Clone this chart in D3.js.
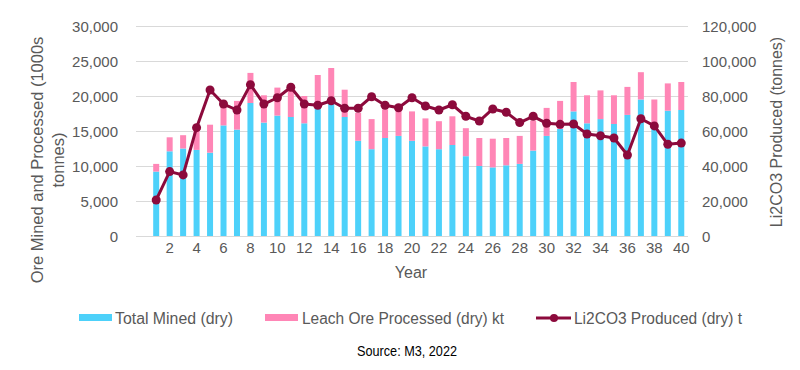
<!DOCTYPE html>
<html>
<head>
<meta charset="utf-8">
<script src="https://cdn.jsdelivr.net/npm/d3@7"></script>
<style>
  html, body { margin: 0; padding: 0; background: #fff; }
  svg text { font-family: Arial, "Liberation Sans", sans-serif; }
</style>
</head>
<body>
<svg id="chart" width="800" height="370"></svg>
<script>
const years = d3.range(1, 41);
const totalMined = [9200, 12100, 12500, 12300, 11900, 15800, 15200, 19000, 16200, 17200,
  17000, 16100, 18200, 19800, 17000, 13600, 12400, 14000, 14300, 13600,
  12800, 12400, 13000, 11400, 10000, 9800, 10100, 10300, 12200, 14300,
  15300, 17800, 16100, 16700, 16000, 17300, 19500, 15800, 17900, 18000];
const leachOre = [1100, 2000, 1900, 2900, 4000, 3400, 4100, 4300, 3900, 4000,
  4000, 3900, 4800, 4200, 3900, 4000, 4300, 4100, 3700, 4200,
  4000, 4000, 4100, 4000, 4000, 4100, 3900, 4000, 4300, 4000,
  4000, 4200, 4000, 4100, 4100, 4000, 3900, 3700, 3900, 4000];
const li2co3 = [20600, 36800, 34900, 61900, 83400, 75400, 72000, 86500, 75400, 79000,
  85000, 75400, 74700, 77300, 73000, 73000, 79600, 74700, 73300, 79000,
  74300, 72000, 75000, 68400, 65700, 72600, 70700, 64800, 68400, 64400,
  63800, 64000, 58300, 57300, 56000, 46300, 67000, 62900, 52400, 53100];
const leftTicks = [0, 5000, 10000, 15000, 20000, 25000, 30000];
const rightTicks = [0, 20000, 40000, 60000, 80000, 100000, 120000];
const xTickYears = years.filter(y => y % 2 === 0);

const colors = { mined: "#4DD1FA", leach: "#FF86B6", line: "#8C0A3C", grid: "#D9D9D9", text: "#595959" };

const svg = d3.select("#chart");
const pLeft = 136, pRight = 688, pTop = 26, pBottom = 236;

const x = d3.scaleBand().domain(d3.range(0, 41)).range([pLeft, pRight]).padding(0);
const yL = d3.scaleLinear().domain([0, 30000]).range([pBottom, pTop]);
const yR = d3.scaleLinear().domain([0, 120000]).range([pBottom, pTop]);
const fmt = d3.format(",");

// gridlines
svg.append("g").selectAll("line").data(leftTicks).join("line")
  .attr("x1", pLeft).attr("x2", pRight)
  .attr("y1", d => yL(d) + 0.5).attr("y2", d => yL(d) + 0.5)
  .attr("stroke", colors.grid).attr("stroke-width", 1);

// left axis
const axL = d3.axisLeft(yL).tickValues(leftTicks).tickFormat(fmt).tickSize(0).tickPadding(0);
const gL = svg.append("g").attr("transform", `translate(118,0)`).call(axL);
gL.select(".domain").remove();
gL.selectAll("text").attr("fill", colors.text).style("font-size", "15px").attr("dy", "0.35em");

// right axis
const axR = d3.axisRight(yR).tickValues(rightTicks).tickFormat(fmt).tickSize(0).tickPadding(0);
const gR = svg.append("g").attr("transform", `translate(702,0)`).call(axR);
gR.select(".domain").remove();
gR.selectAll("text").attr("fill", colors.text).style("font-size", "15px").attr("dy", "0.35em");

// x axis
const axX = d3.axisBottom(x).tickValues(xTickYears).tickSize(0).tickPadding(0);
const gX = svg.append("g").attr("transform", `translate(0,${pBottom + 6})`).call(axX);
gX.select(".domain").remove();
gX.selectAll("text").attr("fill", colors.text).style("font-size", "15px").attr("dy", "0.71em");

// bars
const bw = 6;
const barG = svg.append("g");
barG.selectAll("rect.mined").data(years).join("rect").attr("class", "mined")
  .attr("x", (d) => x(d) + x.bandwidth() / 2 - bw / 2)
  .attr("width", bw)
  .attr("y", (d, i) => yL(totalMined[i]))
  .attr("height", (d, i) => yL(0) - yL(totalMined[i]))
  .attr("fill", colors.mined);
barG.selectAll("rect.leach").data(years).join("rect").attr("class", "leach")
  .attr("x", (d) => x(d) + x.bandwidth() / 2 - bw / 2)
  .attr("width", bw)
  .attr("y", (d, i) => yL(totalMined[i] + leachOre[i]))
  .attr("height", (d, i) => yL(totalMined[i]) - yL(totalMined[i] + leachOre[i]))
  .attr("fill", colors.leach);

// line
const line = d3.line().x((d, i) => x(years[i]) + x.bandwidth() / 2).y(d => yR(d));
svg.append("path").datum(li2co3).attr("d", line)
  .attr("fill", "none").attr("stroke", colors.line).attr("stroke-width", 3).attr("stroke-linejoin", "round");
svg.append("g").selectAll("circle").data(li2co3).join("circle")
  .attr("cx", (d, i) => x(years[i]) + x.bandwidth() / 2)
  .attr("cy", d => yR(d))
  .attr("r", 4.5).attr("fill", colors.line);

// axis titles
const lt = svg.append("text").attr("transform", "translate(43,160) rotate(-90)")
  .attr("text-anchor", "middle").attr("fill", colors.text).style("font-size", "16.5px");
lt.append("tspan").attr("x", 0).attr("dy", 0).text("Ore Mined and Processed (1000s");
lt.append("tspan").attr("x", 0).attr("dy", "1.28em").text("tonnes)");
svg.append("text").attr("transform", "translate(782,132) rotate(-90)")
  .attr("text-anchor", "middle").attr("fill", colors.text).style("font-size", "16px")
  .text("Li2CO3 Produced (tonnes)");
svg.append("text").attr("x", 411).attr("y", 278).attr("text-anchor", "middle")
  .attr("fill", colors.text).style("font-size", "16px").text("Year");

// legend
const legY = 318;
const leg = svg.append("g");
leg.append("rect").attr("x", 79).attr("y", legY - 4).attr("width", 33).attr("height", 7).attr("fill", colors.mined);
leg.append("text").attr("x", 115).attr("y", legY).attr("dy", "0.35em").attr("fill", colors.text)
  .style("font-size", "16px").attr("textLength", 118).attr("lengthAdjust", "spacingAndGlyphs")
  .text("Total Mined (dry)");
leg.append("rect").attr("x", 265).attr("y", legY - 4).attr("width", 33).attr("height", 7).attr("fill", colors.leach);
leg.append("text").attr("x", 302).attr("y", legY).attr("dy", "0.35em").attr("fill", colors.text)
  .style("font-size", "16px").attr("textLength", 202).attr("lengthAdjust", "spacingAndGlyphs")
  .text("Leach Ore Processed (dry) kt");
leg.append("line").attr("x1", 536).attr("x2", 571).attr("y1", legY).attr("y2", legY)
  .attr("stroke", colors.line).attr("stroke-width", 3);
leg.append("circle").attr("cx", 554).attr("cy", legY).attr("r", 4).attr("fill", colors.line);
leg.append("text").attr("x", 574).attr("y", legY).attr("dy", "0.35em").attr("fill", colors.text)
  .style("font-size", "16px").attr("textLength", 168).attr("lengthAdjust", "spacingAndGlyphs")
  .text("Li2CO3 Produced (dry) t");

// source
svg.append("text").attr("x", 357).attr("y", 351).attr("dy", "0.35em")
  .attr("fill", "#000").style("font-size", "14px")
  .attr("textLength", 100).attr("lengthAdjust", "spacingAndGlyphs")
  .text("Source: M3, 2022");
</script>
</body>
</html>
